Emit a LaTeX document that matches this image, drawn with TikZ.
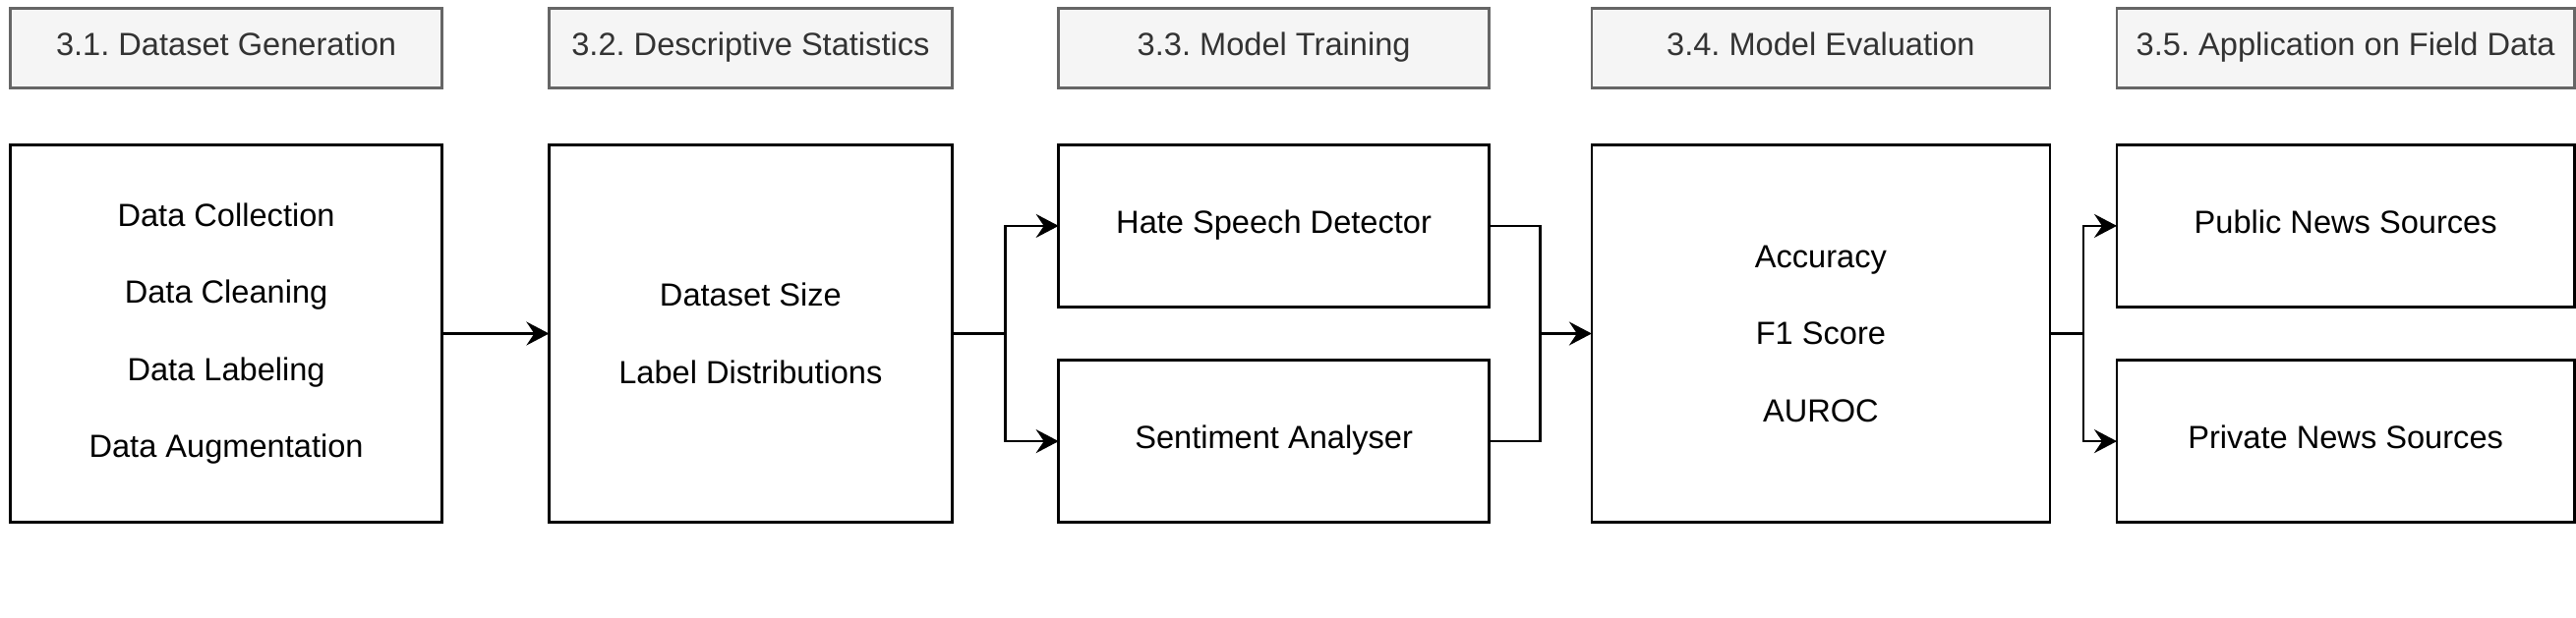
\documentclass[tikz,border=0pt]{standalone}
\usepackage{fontspec}
\setmainfont{Liberation Sans}
\usetikzlibrary{arrows.meta,calc}
\definecolor{hdrfill}{HTML}{F5F5F5}
\definecolor{hdrdraw}{HTML}{666666}
\definecolor{hdrtext}{HTML}{333333}
\frenchspacing
\begin{document}
\begin{tikzpicture}[x=0.5pt,y=-0.5pt,
  every node/.style={font=\fontsize{16.3}{39.25}\selectfont\frenchspacing, align=center, inner sep=0pt, outer sep=0pt},
  oneline/.style={text height=0.72em, text depth=-0.14em},
  hdr/.style={draw=hdrdraw, fill=hdrfill, text=hdrtext, line width=1.35pt, minimum height=40.5pt, oneline},
  box/.style={draw=black, line width=1.35pt},
  conn/.style={line width=1.35pt, line join=miter},
  arr/.style={conn, -{Stealth[length=11.5pt,width=12pt,inset=4pt]}}]
\useasboundingbox (0,0) rectangle (2620,628);
% headers
\node[hdr, minimum width=219.6pt] (h1) at (230.1,48.8) {3.1. Dataset Generation};
\node[hdr, minimum width=205pt] (h2) at (763.4,48.8) {3.2. Descriptive Statistics};
\node[hdr, minimum width=218.9pt] (h3) at (1295.6,48.8) {3.3. Model Training};
\node[hdr, minimum width=233pt] (h4) at (1851.9,48.8) {3.4. Model Evaluation};
\node[hdr, minimum width=232.65pt] (h5) at (2385.65,48.8) {3.5. Application on Field Data};
% boxes
\node[box, minimum width=219.6pt, minimum height=192pt] (b1) at (230.1,339.5)
  {Data Collection\\Data Cleaning\\Data Labeling\\Data Augmentation};
\node[box, minimum width=205pt, minimum height=192pt] (b2) at (763.4,339.5)
  {Dataset Size\\Label Distributions};
\node[box, oneline, minimum width=218.9pt, minimum height=82.4pt] (hate) at (1295.6,229.9) {Hate Speech Detector};
\node[box, oneline, minimum width=218.9pt, minimum height=82.4pt] (sent) at (1295.6,449.1) {Sentiment Analyser};
\node[box, minimum width=233pt, minimum height=192pt] (eval) at (1851.9,339.5)
  {Accuracy\\F1 Score\\AUROC};
\node[box, oneline, minimum width=232.65pt, minimum height=82.4pt] (pub) at (2385.65,229.9) {Public News Sources};
\node[box, oneline, minimum width=232.65pt, minimum height=82.4pt] (priv) at (2385.65,449.1) {Private News Sources};
% connectors
\draw[arr] (b1.east) -- (b2.west);
\coordinate (k1) at (b2.east -| hate.west);
\coordinate (j1) at ($(b2.east)!0.5!(k1)$);
\draw[conn] (b2.east) -- (j1);
\draw[arr] (j1) |- (hate.west);
\draw[arr] (j1) |- (sent.west);
\coordinate (k2) at (eval.west -| hate.east);
\coordinate (j2) at ($(k2)!0.5!(eval.west)$);
\draw[conn] (hate.east) -| (j2);
\draw[conn] (sent.east) -| (j2);
\draw[arr] (j2) -- (eval.west);
\coordinate (k3) at (eval.east -| pub.west);
\coordinate (j3) at ($(eval.east)!0.5!(k3)$);
\draw[conn] (eval.east) -- (j3);
\draw[arr] (j3) |- (pub.west);
\draw[arr] (j3) |- (priv.west);
\end{tikzpicture}
\end{document}
